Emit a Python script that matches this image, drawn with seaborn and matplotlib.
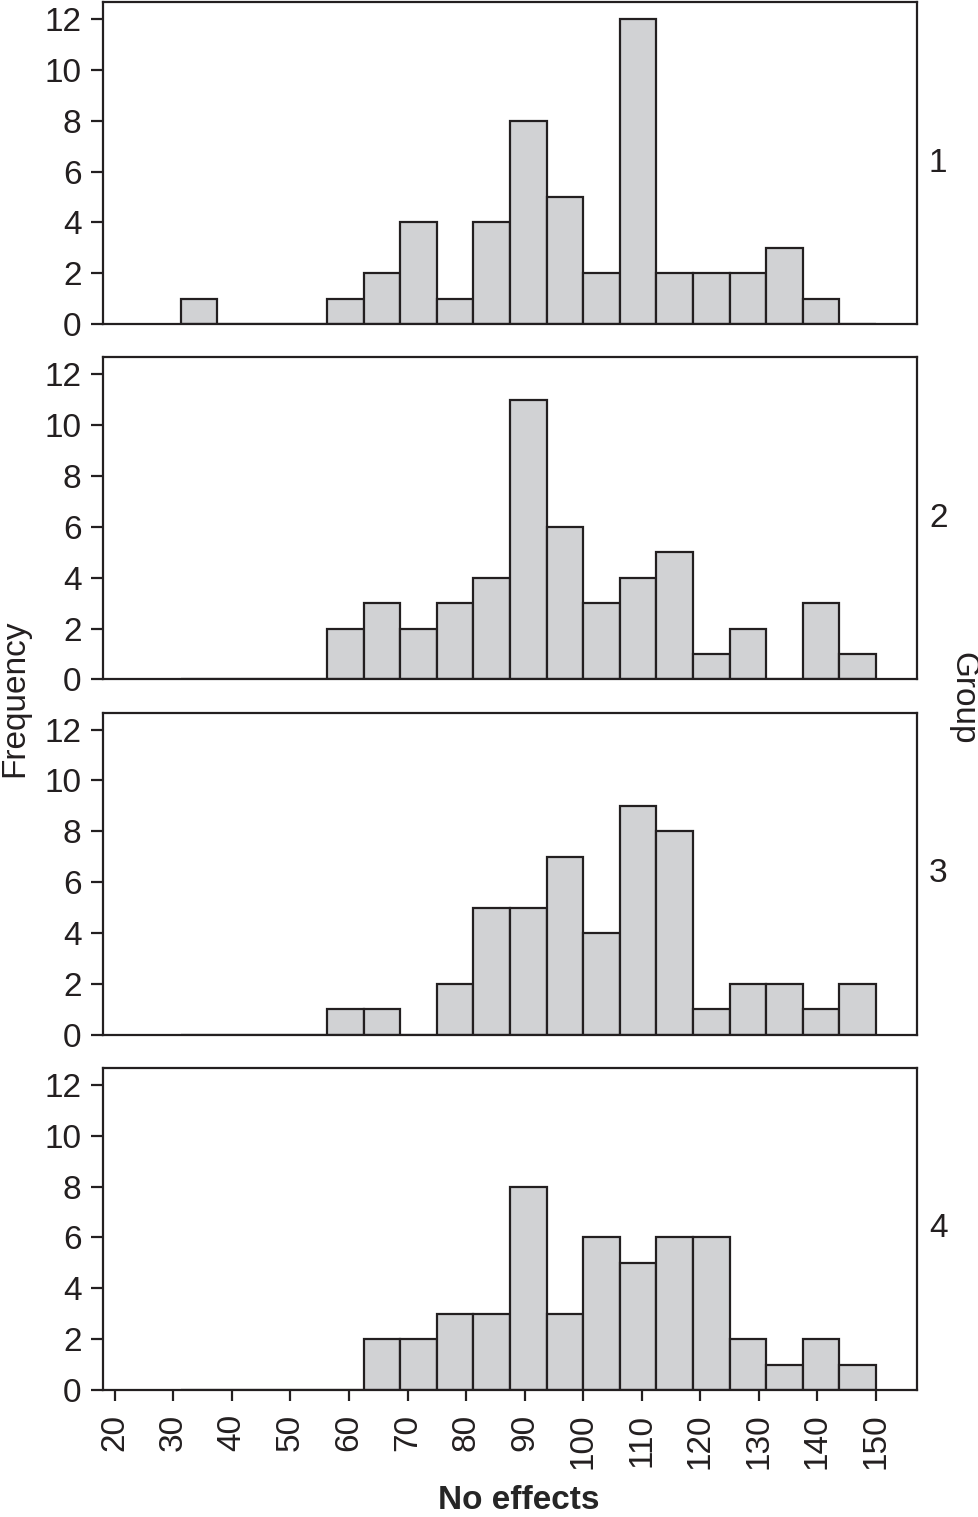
import numpy as np
import pandas as pd
import matplotlib
matplotlib.use("Agg")
import matplotlib.pyplot as plt
import seaborn as sns

# bin midpoints (No effects) and the frequency in each bin per group
effect_mid = [34.375, 40.625, 46.875, 53.125, 59.375, 65.625, 71.875, 78.125,
              84.375, 90.625, 96.875, 103.125, 109.375, 115.625, 121.875,
              128.125, 134.375, 140.625, 146.875]
group_1 = [1, 0, 0, 0, 1, 2, 4, 1, 4, 8, 5, 2, 12, 2, 2, 2, 3, 1, 0]
group_2 = [0, 0, 0, 0, 2, 3, 2, 3, 4, 11, 6, 3, 4, 5, 1, 2, 0, 3, 1]
group_3 = [0, 0, 0, 0, 1, 1, 0, 2, 5, 5, 7, 4, 9, 8, 1, 2, 2, 1, 2]
group_4 = [0, 0, 0, 0, 0, 2, 2, 3, 3, 8, 3, 6, 5, 6, 6, 2, 1, 2, 1]
group_names = ["1", "2", "3", "4"]
x_ticks = [20, 30, 40, 50, 60, 70, 80, 90, 100, 110, 120, 130, 140, 150]
y_ticks = [0, 2, 4, 6, 8, 10, 12]

sns.set_style("ticks")
plt.rcParams['font.family'] = ['Liberation Sans', 'DejaVu Sans']

INK = "#231f20"
FILL = "#d1d2d4"
FS = 24
plt.rcParams.update({
    "axes.edgecolor": INK,
    "axes.linewidth": 1.6,
    "xtick.color": INK,
    "ytick.color": INK,
    "xtick.major.width": 1.6,
    "ytick.major.width": 1.6,
    "xtick.major.size": 8,
    "ytick.major.size": 8.5,
    "text.color": INK,
})

rows = []
for name, counts in zip(group_names, [group_1, group_2, group_3, group_4]):
    for m, c in zip(effect_mid, counts):
        rows.append({"group": name, "effect": m, "freq": c})
df = pd.DataFrame(rows)

fig, axes = plt.subplots(4, 1, figsize=(9.79, 15.17), dpi=100, sharex=True)
fig.subplots_adjust(left=0.1052, right=0.9367, top=0.9987, bottom=0.0837, hspace=0.1025)

for ax, name in zip(axes, group_names):
    sub = df[df["group"] == name]
    sns.histplot(data=sub, x="effect", weights="freq", binwidth=6.25,
                 binrange=(31.25, 150.0), ax=ax,
                 color=FILL, edgecolor=INK, linewidth=1.6, alpha=1)
    ax.set_xlim(18.0, 157.0)
    ax.set_ylim(0, 12.67)
    ax.set_yticks(y_ticks)
    ax.tick_params(axis="y", labelsize=FS, pad=7)
    ax.set_ylabel("")
    ax.set_xlabel("")
    for s in ax.spines.values():
        s.set_visible(True)
    ax.text(1.026, 0.5, name, transform=ax.transAxes, fontsize=FS,
            ha="center", va="center")

axes[-1].set_xticks(x_ticks)
axes[-1].tick_params(axis="x", labelsize=FS, labelrotation=90, length=8, pad=9)
for ax in axes[:-1]:
    ax.tick_params(axis="x", bottom=False)
axes[-1].set_xlabel("No effects", fontsize=FS, fontweight="bold", labelpad=11, x=0.511)

fig.text(0.015, 0.54, "Frequency", rotation=90, fontsize=FS, ha="center", va="center")
fig.text(0.984, 0.54, "Group", rotation=-90, fontsize=FS, ha="center", va="center")

fig.savefig("out.png", dpi=100)
